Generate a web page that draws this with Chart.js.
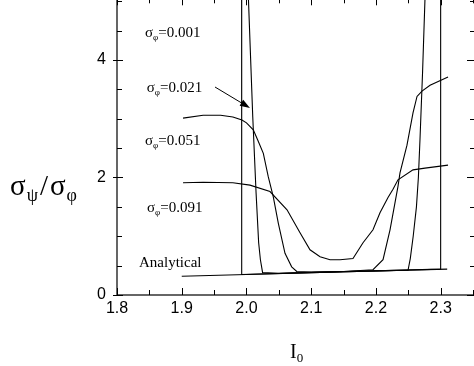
<!DOCTYPE html>
<html><head><meta charset="utf-8">
<script src="https://cdn.jsdelivr.net/npm/chart.js@4"></script>
<style>
html,body{margin:0;padding:0;background:#fff;overflow:hidden;width:474px;height:366px;}
#wrap{position:absolute;left:0;top:-3px;width:482px;height:370px;}
</style></head><body>
<div id="wrap"><canvas id="c" width="482" height="370"></canvas></div>
<script>
// ---- data ----
const xTickValues = [1.8, 1.9, 2.0, 2.1, 2.2, 2.3];
const xTickLabels = ['1.8', '1.9', '2.0', '2.1', '2.2', '2.3'];
const xMinorValues = [1.8, 1.85, 1.9, 1.95, 2.0, 2.05, 2.1, 2.15, 2.2, 2.25, 2.3, 2.35];
const yTickValues = [0, 2, 4];
const yTickLabels = ['0', '2', '4'];
const yMinorValues = [0, 0.5, 1, 1.5, 2, 2.5, 3, 3.5, 4, 4.5, 5];

const analyticalX = [1.9, 2.0, 2.1, 2.2, 2.31];
const analyticalY = [0.32, 0.35, 0.38, 0.41, 0.44];

const s001X = [1.9, 1.992, 1.9926, 2.1, 2.2, 2.2995, 2.2999, 2.31];
const s001Y = [30, 30, 0.35, 0.38, 0.41, 0.44, 30, 30];

const s021X = [1.998, 2.003, 2.0097, 2.0148, 2.0188, 2.0215, 2.0249, 2.05, 2.1, 2.15, 2.2, 2.2495, 2.253, 2.2575, 2.2625, 2.2655, 2.268, 2.272, 2.2757, 2.28];
const s021Y = [6.6, 5.04, 3.03, 1.74, 0.89, 0.6, 0.38, 0.37, 0.385, 0.40, 0.41, 0.42, 0.62, 1.0, 1.5, 2.0, 2.65, 3.8, 5.04, 6.3];

const s051X = [1.902, 1.933, 1.96, 1.979, 1.993, 2.0, 2.0105, 2.018, 2.026, 2.0337, 2.0414, 2.0492, 2.0595, 2.0698, 2.0776, 2.1, 2.15, 2.1954, 2.2109, 2.2217, 2.234, 2.2371, 2.2479, 2.2572, 2.2634, 2.2711, 2.2835, 2.3113];
const s051Y = [3.01, 3.06, 3.06, 3.03, 2.98, 2.93, 2.81, 2.62, 2.41, 2.01, 1.67, 1.22, 0.71, 0.48, 0.40, 0.39, 0.40, 0.43, 0.6, 1.11, 1.85, 2.08, 2.55, 3.1, 3.38, 3.47, 3.57, 3.71];

const s091X = [1.902, 1.933, 1.979, 2.0054, 2.0363, 2.0626, 2.0827, 2.0981, 2.1136, 2.129, 2.1445, 2.1645, 2.18, 2.1954, 2.2062, 2.2186, 2.2263, 2.234, 2.2572, 2.2757, 2.3113];
const s091Y = [1.91, 1.92, 1.91, 1.87, 1.76, 1.45, 1.06, 0.77, 0.65, 0.6, 0.6, 0.62, 0.89, 1.11, 1.40, 1.66, 1.80, 1.96, 2.13, 2.16, 2.21];

const seriesNames = ['Analytical', 'σφ=0.001', 'σφ=0.021', 'σφ=0.051', 'σφ=0.091'];

// ---- helpers ----
const pts = (xs, ys) => xs.map((x, i) => ({x, y: ys[i]}));
const ds = (label, xs, ys) => ({label, data: pts(xs, ys), borderColor: '#000', borderWidth: 1.1, pointRadius: 0, tension: 0, fill: false});

const SERIF = '"Liberation Serif", "Times New Roman", serif';

function drawParts(ctx, x, y, parts) {
  let cx = x;
  for (const p of parts) {
    ctx.font = p.size + 'px ' + SERIF;
    cx += (p.pre || 0);
    ctx.fillText(p.t, cx, y + (p.dy || 0));
    cx += ctx.measureText(p.t).width + (p.gap || 0);
  }
}

const framePlugin = {
  id: 'frame',
  afterDraw(chart) {
    const {ctx, chartArea: a, scales: {x, y}} = chart;
    ctx.save();
    ctx.strokeStyle = '#000';
    ctx.lineWidth = 1.2;
    ctx.strokeRect(a.left, a.top, a.right - a.left, a.bottom - a.top);
    ctx.lineWidth = 1;
    ctx.beginPath();
    for (const v of xMinorValues) {
      const px = Math.round(x.getPixelForValue(v)) + 0.5;
      const major = xTickValues.some(t => Math.abs(t - v) < 1e-6);
      const L = major ? 7 : 5;
      ctx.moveTo(px, a.bottom); ctx.lineTo(px, a.bottom - L);
      ctx.moveTo(px, a.top); ctx.lineTo(px, a.top + L);
    }
    for (const v of yMinorValues) {
      const py = Math.round(y.getPixelForValue(v)) + 0.5;
      const major = yTickValues.some(t => Math.abs(t - v) < 1e-6);
      ctx.moveTo(major ? a.left - 4 : a.left, py); ctx.lineTo(a.left + (major ? 6 : 5), py);
      ctx.moveTo(a.right, py); ctx.lineTo(a.right - (major ? 9 : 6), py);
    }
    ctx.stroke();

    // annotations
    ctx.fillStyle = '#000';
    ctx.textBaseline = 'alphabetic';
    const lab = (vx, vy, name) => {
      const px = x.getPixelForValue(vx), py = y.getPixelForValue(vy);
      if (name.startsWith('σφ')) {
        drawParts(ctx, px, py, [{t: 'σ', size: 15}, {t: 'φ', size: 9, dy: 3}, {t: name.slice(2), size: 15}]);
      } else {
        drawParts(ctx, px, py, [{t: name, size: 15}]);
      }
    };
    lab(1.8433, 4.39, seriesNames[1]);
    lab(1.8459, 3.455, seriesNames[2]);
    lab(1.8433, 2.553, seriesNames[3]);
    lab(1.8463, 1.413, seriesNames[4]);
    lab(1.834, 0.477, seriesNames[0]);

    // arrow
    const ax1 = x.getPixelForValue(1.9514), ay1 = y.getPixelForValue(3.54);
    const ax2 = x.getPixelForValue(2.0054), ay2 = y.getPixelForValue(3.183);
    const ang = Math.atan2(ay2 - ay1, ax2 - ax1);
    ctx.beginPath();
    ctx.moveTo(ax1, ay1);
    ctx.lineTo(ax2 - 8 * Math.cos(ang), ay2 - 8 * Math.sin(ang));
    ctx.stroke();
    ctx.beginPath();
    ctx.moveTo(ax2, ay2);
    ctx.lineTo(ax2 - 10 * Math.cos(ang) + 3.5 * Math.sin(ang), ay2 - 10 * Math.sin(ang) - 3.5 * Math.cos(ang));
    ctx.lineTo(ax2 - 10 * Math.cos(ang) - 3.5 * Math.sin(ang), ay2 - 10 * Math.sin(ang) + 3.5 * Math.cos(ang));
    ctx.closePath();
    ctx.fill();

    // axis titles
    drawParts(ctx, 10, 198, [
      {t: 'σ', size: 29}, {t: 'ψ', size: 18, dy: 6, pre: 1, gap: 2},
      {t: '/', size: 29, gap: 2}, {t: 'σ', size: 29}, {t: 'φ', size: 18, dy: 6, pre: 1}
    ]);
    drawParts(ctx, 290, 361, [{t: 'I', size: 20}, {t: '0', size: 13, dy: 4}]);
    ctx.restore();
  }
};

new Chart(document.getElementById('c'), {
  type: 'line',
  data: {
    datasets: [
      ds(seriesNames[0], analyticalX, analyticalY),
      ds(seriesNames[1], s001X, s001Y),
      ds(seriesNames[2], s021X, s021Y),
      ds(seriesNames[3], s051X, s051Y),
      ds(seriesNames[4], s091X, s091Y)
    ]
  },
  options: {
    responsive: false,
    devicePixelRatio: 1,
    animation: false,
    layout: {padding: {left: 97, right: 6, top: 1.3, bottom: 42}},
    plugins: {legend: {display: false}, tooltip: {enabled: false}},
    scales: {
      x: {
        type: 'linear', min: 1.8, max: 2.3545,
        grid: {display: false, drawTicks: false},
        border: {display: false},
        afterBuildTicks: s => { s.ticks = xTickValues.map(v => ({value: v})); },
        afterFit: s => { s.height = 30; s.paddingLeft = 0; s.paddingRight = 0; },
        ticks: {
          padding: 4, color: '#000', maxRotation: 0, autoSkip: false,
          font: {family: '"Liberation Sans", Arial, sans-serif', size: 16},
          callback: (v, i) => xTickLabels[i]
        }
      },
      y: {
        type: 'linear', min: 0, max: 5.05,
        grid: {display: false, drawTicks: false},
        border: {display: false},
        afterBuildTicks: s => { s.ticks = yTickValues.map(v => ({value: v})); },
        afterFit: s => { s.width = 20; s.paddingTop = 0; s.paddingBottom = 0; },
        ticks: {
          padding: 11, color: '#000',
          font: {family: '"Liberation Sans", Arial, sans-serif', size: 16},
          callback: (v, i) => yTickLabels[i]
        }
      }
    }
  },
  plugins: [framePlugin]
});
</script>
</body></html>
